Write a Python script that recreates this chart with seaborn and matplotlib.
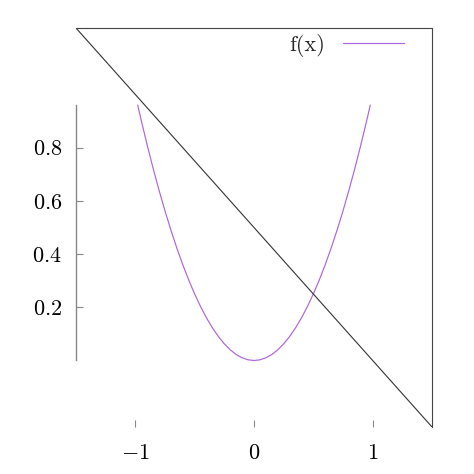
import matplotlib.pyplot as plt
import seaborn as sns
import pandas as pd

# values
curve_x = [-0.98, -0.95, -0.9, -0.85, -0.8, -0.75, -0.7, -0.65, -0.6, -0.55, -0.5,
           -0.45, -0.4, -0.35, -0.3, -0.25, -0.2, -0.15, -0.1, -0.05, 0.0,
           0.05, 0.1, 0.15, 0.2, 0.25, 0.3, 0.35, 0.4, 0.45, 0.5,
           0.55, 0.6, 0.65, 0.7, 0.75, 0.8, 0.85, 0.9, 0.95, 0.98]
curve_y = [0.9604, 0.9025, 0.81, 0.7225, 0.64, 0.5625, 0.49, 0.4225, 0.36, 0.3025, 0.25,
           0.2025, 0.16, 0.1225, 0.09, 0.0625, 0.04, 0.0225, 0.01, 0.0025, 0.0,
           0.0025, 0.01, 0.0225, 0.04, 0.0625, 0.09, 0.1225, 0.16, 0.2025, 0.25,
           0.3025, 0.36, 0.4225, 0.49, 0.5625, 0.64, 0.7225, 0.81, 0.9025, 0.9604]
diag_x = [-1.5, 1.5]
diag_y = [1.25, -0.25]
x_ticks = [-1, 0, 1]
y_ticks = [0.2, 0.4, 0.6, 0.8]

sns.set_theme(style="white")
plt.rcParams["font.family"] = ["serif"]
plt.rcParams["font.serif"] = ["cmr10"]
plt.rcParams["mathtext.fontset"] = "cm"
plt.rcParams["axes.formatter.use_mathtext"] = True

fig = plt.figure(figsize=(4.74, 4.74), dpi=100)
ax = fig.add_axes([0.1603, 0.0992, 0.9114 - 0.1603, 0.9409 - 0.0992])

df = pd.DataFrame({"x": curve_x, "y": curve_y})
sns.lineplot(data=df, x="x", y="y", ax=ax, color="#ad64dc", lw=0.85,
             sort=False, label="f(x)")
ax.plot(diag_x, diag_y, color="#333333", lw=0.8)

ax.set_xlim(-1.5, 1.5)
ax.set_ylim(-0.25, 1.25)
ax.set_xticks(x_ticks)
ax.set_yticks(y_ticks)
ax.set_xlabel("")
ax.set_ylabel("")

ax.spines["bottom"].set_visible(False)
ax.spines["left"].set_bounds(0, 0.96)
ax.spines["left"].set_color("#888888")
ax.spines["left"].set_linewidth(1.0)
for s in ["top", "right"]:
    ax.spines[s].set_color("#444444")
    ax.spines[s].set_linewidth(0.8)

ax.tick_params(axis="both", direction="in", length=5, width=0.8,
               color="#888888", labelsize=16, labelcolor="black", pad=10)
ax.tick_params(axis="x", bottom=True, pad=12)
ax.tick_params(axis="y", left=True)

ax.legend(loc="upper right", frameon=False, markerfirst=False, fontsize=16,
          handlelength=2.75, borderaxespad=0.6, bbox_to_anchor=(0.985, 1.04))

fig.savefig("out.png", dpi=100)
